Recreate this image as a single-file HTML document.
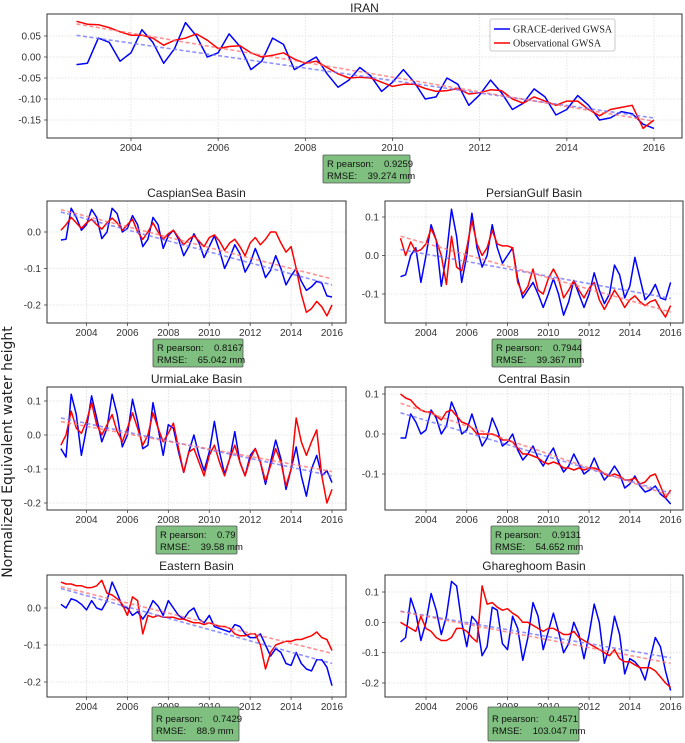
<!DOCTYPE html>
<html><head><meta charset="utf-8">
<style>
html,body{margin:0;padding:0;background:#fff;}
svg{display:block;font-family:"Liberation Sans","DejaVu Sans",sans-serif;}
.pre{white-space:pre;}
</style></head>
<body>
<svg id="fig" width="685" height="743" viewBox="0 0 685 743" xmlns="http://www.w3.org/2000/svg">
<text x="0" y="0" transform="translate(12,452) rotate(-90)" text-anchor="middle" font-size="14" fill="#222" font-family="DejaVu Sans, sans-serif">Normalized Equivalent water height</text>
</svg>
<script>
// ---- data ----
const xTicks = [2004, 2006, 2008, 2010, 2012, 2014, 2016];
const startYear = 2002.75;
const endYear = 2016.0;
const panelNames = ["IRAN","CaspianSea Basin","PersianGulf Basin","UrmiaLake Basin","Central Basin","Eastern Basin","Ghareghoom Basin"];
const rValues = ["0.9259","0.8167","0.7944","0.79","0.9131","0.7429","0.4571"];
const rmseValues = ["39.274","65.042","39.367","39.58","54.652","88.9","103.047"];
const yTicksIran = [0.05,0.00,-0.05,-0.10,-0.15];
const yTicksCaspian = [0.0,-0.1,-0.2];
const yTicksPersian = [0.1,0.0,-0.1];
const yTicksUrmia = [0.1,0.0,-0.1,-0.2];
const yTicksCentral = [0.1,0.0,-0.1];
const yTicksEastern = [0.0,-0.1,-0.2];
const yTicksGhare = [0.1,0.0,-0.1,-0.2];

const graceIran = [-0.018,-0.015,0.045,0.035,-0.01,0.01,0.065,0.035,-0.015,0.02,0.082,0.05,0.0,0.01,0.055,0.025,-0.03,-0.01,0.045,0.03,-0.03,-0.015,0.0,-0.04,-0.072,-0.055,-0.025,-0.045,-0.082,-0.06,-0.03,-0.06,-0.1,-0.095,-0.05,-0.065,-0.115,-0.09,-0.055,-0.085,-0.125,-0.11,-0.076,-0.095,-0.138,-0.125,-0.092,-0.115,-0.15,-0.145,-0.13,-0.135,-0.16,-0.17];
const obsIran = [0.085,0.078,0.077,0.07,0.06,0.052,0.052,0.045,0.028,0.04,0.045,0.055,0.04,0.02,0.025,0.027,0.01,0.0,0.004,0.01,-0.005,-0.015,-0.01,-0.025,-0.04,-0.05,-0.048,-0.05,-0.06,-0.07,-0.065,-0.065,-0.075,-0.082,-0.08,-0.075,-0.088,-0.085,-0.078,-0.08,-0.1,-0.11,-0.095,-0.105,-0.115,-0.105,-0.105,-0.125,-0.14,-0.125,-0.12,-0.115,-0.17,-0.15];
const graceCaspian = [-0.022,-0.02,0.065,0.04,0.005,0.02,0.062,0.04,-0.018,0.0,0.065,0.05,0.0,0.01,0.045,0.02,-0.04,-0.02,0.04,0.02,-0.045,-0.01,0.005,-0.02,-0.065,-0.04,-0.005,-0.03,-0.07,-0.04,-0.01,-0.05,-0.1,-0.07,-0.035,-0.06,-0.11,-0.085,-0.045,-0.08,-0.125,-0.105,-0.065,-0.1,-0.145,-0.12,-0.1,-0.135,-0.16,-0.15,-0.135,-0.14,-0.175,-0.178];
const obsCaspian = [0.005,0.02,0.04,0.025,0.01,0.025,0.035,0.02,0.008,0.025,0.038,0.025,0.005,0.02,0.035,0.0,-0.02,0.0,0.025,0.0,-0.02,-0.005,0.005,-0.015,-0.035,-0.02,-0.01,-0.025,-0.04,-0.015,-0.008,-0.025,-0.05,-0.03,-0.02,-0.04,-0.065,-0.03,-0.015,-0.035,-0.02,0.0,0.0,-0.03,-0.055,-0.04,-0.1,-0.17,-0.22,-0.21,-0.19,-0.205,-0.23,-0.2];
const gracePersian = [-0.055,-0.05,0.0,0.02,-0.07,0.0,0.08,0.04,-0.08,0.0,0.12,0.05,-0.07,0.0,0.11,0.02,-0.03,0.0,0.08,0.02,-0.02,0.0,0.02,-0.06,-0.11,-0.09,-0.07,-0.1,-0.135,-0.1,-0.06,-0.1,-0.155,-0.12,-0.065,-0.1,-0.135,-0.1,-0.045,-0.09,-0.125,-0.1,-0.025,-0.05,-0.11,-0.08,-0.005,-0.06,-0.115,-0.1,-0.075,-0.11,-0.115,-0.07];
const obsPersian = [0.045,0.0,0.035,0.01,0.015,0.03,0.07,0.04,0.0,-0.075,0.05,-0.03,-0.04,0.02,0.09,0.03,0.0,0.02,0.065,0.03,0.025,0.025,0.02,-0.07,-0.1,-0.08,-0.035,-0.09,-0.1,-0.06,-0.035,-0.06,-0.11,-0.09,-0.065,-0.09,-0.11,-0.085,-0.07,-0.115,-0.14,-0.115,-0.09,-0.11,-0.135,-0.115,-0.105,-0.12,-0.13,-0.12,-0.115,-0.14,-0.16,-0.13];
const graceUrmia = [-0.04,-0.065,0.12,0.06,-0.06,0.02,0.115,0.05,-0.02,0.02,0.12,0.06,-0.035,0.0,0.105,0.04,-0.04,-0.03,0.095,0.02,-0.06,0.03,0.02,-0.05,-0.11,-0.05,0.0,-0.06,-0.105,-0.05,0.04,-0.05,-0.115,-0.07,0.01,-0.08,-0.12,-0.06,-0.04,-0.08,-0.145,-0.08,-0.015,-0.07,-0.16,-0.1,-0.035,-0.12,-0.18,-0.1,-0.06,-0.12,-0.105,-0.14];
const obsUrmia = [-0.03,0.0,0.07,0.02,0.005,0.04,0.095,0.03,0.0,0.03,0.06,0.01,-0.02,0.02,0.065,0.02,-0.03,0.0,0.065,0.02,-0.02,0.005,0.035,-0.04,-0.11,-0.05,-0.04,-0.08,-0.12,-0.06,-0.03,-0.08,-0.12,-0.07,-0.03,-0.08,-0.12,-0.07,-0.04,-0.08,-0.135,-0.09,-0.04,-0.08,-0.15,-0.1,0.05,-0.02,-0.06,-0.02,0.015,-0.12,-0.2,-0.16];
const graceCentral = [-0.01,-0.01,0.05,0.03,0.0,0.01,0.06,0.04,0.0,0.02,0.08,0.05,0.0,0.01,0.05,0.01,-0.03,-0.01,0.04,0.01,-0.03,-0.02,0.0,-0.04,-0.065,-0.05,-0.03,-0.06,-0.08,-0.055,-0.035,-0.07,-0.095,-0.08,-0.05,-0.075,-0.1,-0.09,-0.06,-0.09,-0.115,-0.1,-0.08,-0.1,-0.135,-0.125,-0.105,-0.13,-0.145,-0.14,-0.13,-0.15,-0.16,-0.175];
const obsCentral = [0.1,0.09,0.085,0.07,0.06,0.055,0.055,0.045,0.035,0.055,0.06,0.045,0.03,0.025,0.015,0.0,0.0,0.0,0.0,-0.005,-0.015,-0.015,-0.02,-0.035,-0.05,-0.05,-0.055,-0.06,-0.07,-0.075,-0.07,-0.075,-0.085,-0.085,-0.09,-0.085,-0.09,-0.085,-0.085,-0.09,-0.1,-0.105,-0.1,-0.105,-0.115,-0.115,-0.11,-0.125,-0.12,-0.105,-0.1,-0.13,-0.16,-0.14];
const graceEastern = [0.01,0.0,0.025,0.02,0.01,-0.005,0.02,0.0,-0.005,0.02,0.07,0.04,0.005,0.0,-0.02,-0.01,-0.03,-0.01,0.02,0.005,-0.02,0.02,0.0,-0.02,-0.03,-0.01,0.0,-0.03,-0.04,-0.02,-0.05,-0.055,-0.06,-0.065,-0.045,-0.05,-0.07,-0.08,-0.08,-0.07,-0.1,-0.13,-0.11,-0.12,-0.15,-0.155,-0.12,-0.15,-0.165,-0.17,-0.14,-0.14,-0.16,-0.21];
const obsEastern = [0.07,0.065,0.065,0.06,0.06,0.055,0.055,0.06,0.075,0.04,0.035,0.025,0.01,-0.02,0.03,0.02,-0.07,-0.02,-0.025,-0.02,-0.025,-0.025,-0.025,-0.03,-0.03,-0.035,-0.04,-0.04,-0.045,-0.04,-0.045,-0.05,-0.05,-0.055,-0.07,-0.075,-0.075,-0.07,-0.07,-0.1,-0.165,-0.12,-0.1,-0.095,-0.09,-0.09,-0.085,-0.085,-0.08,-0.075,-0.065,-0.08,-0.085,-0.115];
const graceGhare = [-0.065,-0.05,0.08,0.03,-0.06,0.0,0.095,0.04,-0.04,0.02,0.135,0.12,0.0,-0.08,0.02,0.0,-0.11,-0.08,0.05,0.04,-0.07,-0.09,0.02,-0.02,-0.125,-0.05,0.065,0.02,-0.09,-0.03,0.03,-0.03,-0.1,-0.07,0.0,-0.04,-0.12,-0.04,0.06,0.0,-0.135,-0.08,0.02,-0.04,-0.17,-0.12,-0.13,-0.15,-0.19,-0.12,-0.05,-0.08,-0.16,-0.225];
const obsGhare = [0.0,-0.01,-0.02,-0.03,0.02,-0.02,-0.03,-0.05,-0.06,-0.06,-0.05,-0.02,-0.02,-0.03,-0.05,-0.065,0.12,0.06,0.065,0.05,0.04,0.045,0.03,0.02,0.0,0.0,-0.01,-0.02,-0.03,-0.02,-0.02,-0.03,-0.04,-0.04,-0.03,-0.05,-0.06,-0.07,-0.08,-0.09,-0.1,-0.11,-0.09,-0.12,-0.13,-0.13,-0.14,-0.15,-0.15,-0.15,-0.16,-0.18,-0.2,-0.215];

// ---- layout (pixels) ----
const layouts = [
 {l:47,r:682,t:14,b:138,x0:131,x1:654,v0:0.05,p0:36,v1:-0.15,p1:120,ticks:yTicksIran,dec:2,g:graceIran,o:obsIran,box:[323,155,87,28],title:8},
 {l:47,r:346,t:201,b:323,x0:86.5,x1:332,v0:0.0,p0:232,v1:-0.2,p1:305,ticks:yTicksCaspian,dec:1,g:graceCaspian,o:obsCaspian,box:[153,339,90,28],title:193},
 {l:385,r:683,t:201,b:323,x0:426,x1:670.6,v0:0.1,p0:217,v1:-0.1,p1:294,ticks:yTicksPersian,dec:1,g:gracePersian,o:obsPersian,box:[492,339,89,28],title:193},
 {l:47,r:346,t:387,b:510,x0:86.5,x1:332,v0:0.1,p0:401,v1:-0.2,p1:503,ticks:yTicksUrmia,dec:1,g:graceUrmia,o:obsUrmia,box:[156,526,81,28],title:379},
 {l:385,r:683,t:387,b:510,x0:426,x1:670.6,v0:0.1,p0:394,v1:-0.1,p1:474,ticks:yTicksCentral,dec:1,g:graceCentral,o:obsCentral,box:[491,526,88,28],title:379},
 {l:47,r:346,t:575,b:697,x0:86.5,x1:332,v0:0.0,p0:608,v1:-0.2,p1:682,ticks:yTicksEastern,dec:1,g:graceEastern,o:obsEastern,box:[152,707,87,34],title:566},
 {l:385,r:683,t:575,b:697,x0:426,x1:670.6,v0:0.1,p0:592,v1:-0.2,p1:683,ticks:yTicksGhare,dec:1,g:graceGhare,o:obsGhare,box:[488,707,91,34],title:566}
];
const NS="http://www.w3.org/2000/svg";
const svg=document.getElementById('fig');
function mk(tag,attrs,parent){const e=document.createElementNS(NS,tag);for(const k in attrs)e.setAttribute(k,attrs[k]);(parent||svg).appendChild(e);return e;}
function fit(ts,vs){const n=vs.length;let mx=0,my=0;for(let i=0;i<n;i++){mx+=ts[i];my+=vs[i];}mx/=n;my/=n;let sxy=0,sxx=0;for(let i=0;i<n;i++){sxy+=(ts[i]-mx)*(vs[i]-my);sxx+=(ts[i]-mx)**2;}const b=sxy/sxx;return [b,my-b*mx];}

layouts.forEach((L,pi)=>{
  const g=mk('g',{});
  
  
  const xs=t=>L.x0+(t-2004)*(L.x1-L.x0)/12;
  const ys=v=>L.p0+(v-L.v0)*(L.p1-L.p0)/(L.v1-L.v0);
  const clipId='clip'+pi;
  const cp=mk('clipPath',{id:clipId},g);mk('rect',{x:L.l,y:L.t,width:L.r-L.l,height:L.b-L.t},cp);
  xTicks.forEach(t=>{
    const ln=mk('line',{x1:xs(t),x2:xs(t),y1:L.t,y2:L.b,stroke:'#ddd','stroke-width':0.8,'stroke-dasharray':'1.5,1.5'},g);
    
    
    mk('line',{x1:xs(t),x2:xs(t),y1:L.b,y2:L.b+3,stroke:'#444','stroke-width':0.8},g);
    const tx=mk('text',{x:xs(t),y:L.b+13,'text-anchor':'middle','font-size':10,fill:'#333'},g);
    tx.textContent=t;
    
    
  });
  L.ticks.forEach(v=>{
    const ln=mk('line',{x1:L.l,x2:L.r,y1:ys(v),y2:ys(v),stroke:'#ddd','stroke-width':0.8,'stroke-dasharray':'1.5,1.5'},g);
    
    
    mk('line',{x1:L.l-3,x2:L.l,y1:ys(v),y2:ys(v),stroke:'#444','stroke-width':0.8},g);
    const tx=mk('text',{x:L.l-6,y:ys(v)+3.5,'text-anchor':'end','font-size':10,fill:'#333'},g);
    tx.textContent=(v===0?(0).toFixed(L.dec):v.toFixed(L.dec));
    
    
  });
  const series=[[L.g,'#0000ff','grace-gwsa-line','rgba(110,110,255,0.75)','grace-trend-line'],[L.o,'#ff0000','observational-gwsa-line','rgba(255,110,110,0.75)','observational-trend-line']];
  const lines=mk('g',{'clip-path':'url(#'+clipId+')'},g);
  series.forEach(([vals,col,name])=>{
    const n=vals.length;const ts=vals.map((_,i)=>startYear+i*(endYear-startYear)/(n-1));
    const p=mk('polyline',{points:vals.map((v,i)=>xs(ts[i]).toFixed(1)+','+ys(v).toFixed(1)).join(' '),fill:'none',stroke:col,'stroke-width':1.5,'stroke-linejoin':'round'},lines);
    
    
  });
  series.forEach(([vals,col,name,tcol,tname])=>{
    const n=vals.length;const ts=vals.map((_,i)=>startYear+i*(endYear-startYear)/(n-1));
    const [b,a]=fit(ts,vals);
    const tl=mk('line',{x1:xs(startYear),y1:ys(a+b*startYear),x2:xs(endYear),y2:ys(a+b*endYear),stroke:tcol,'stroke-width':1.6,'stroke-dasharray':'4,2.5'},lines);
    
    
  });
  const fr=mk('rect',{x:L.l,y:L.t,width:L.r-L.l,height:L.b-L.t,fill:'none',stroke:'#333','stroke-width':1},g);
  
  
  const tt=mk('text',{x:(L.l+L.r)/2,y:L.title+4,'text-anchor':'middle','font-size':12,fill:'#222'},g);
  tt.textContent=panelNames[pi];
  
  
  const [bx,by,bw,bh]=L.box;
  const sb=mk('g',{},g);
  
  
  mk('rect',{x:bx,y:by,width:bw,height:bh,fill:'#7fbf7f',stroke:'#555','stroke-width':0.8,rx:1},sb);
  const t1=mk('text',{x:bx+4,y:by+bh/2-2,'font-size':9.5,fill:'#111','class':'pre'},sb);
  t1.textContent='R pearson:    '+rValues[pi];
  const t2=mk('text',{x:bx+4,y:by+bh/2+10,'font-size':9.5,fill:'#111','class':'pre'},sb);
  t2.textContent='RMSE:    '+rmseValues[pi]+' mm';
});
const lg=mk('g',{});


mk('rect',{x:490,y:19,width:125,height:32,fill:'#fff',stroke:'#bbb','stroke-width':0.8,rx:2},lg);
mk('line',{x1:494,x2:510,y1:29,y2:29,stroke:'#0000ff','stroke-width':1.5},lg);
mk('line',{x1:494,x2:510,y1:43,y2:43,stroke:'#ff0000','stroke-width':1.5},lg);
const l1=mk('text',{x:513,y:32.5,'font-size':10,fill:'#222','font-family':'Liberation Serif, serif'},lg);
l1.textContent='GRACE-derived GWSA';


const l2=mk('text',{x:513,y:46.5,'font-size':10,fill:'#222','font-family':'Liberation Serif, serif'},lg);
l2.textContent='Observational GWSA';


</script>
</body></html>
